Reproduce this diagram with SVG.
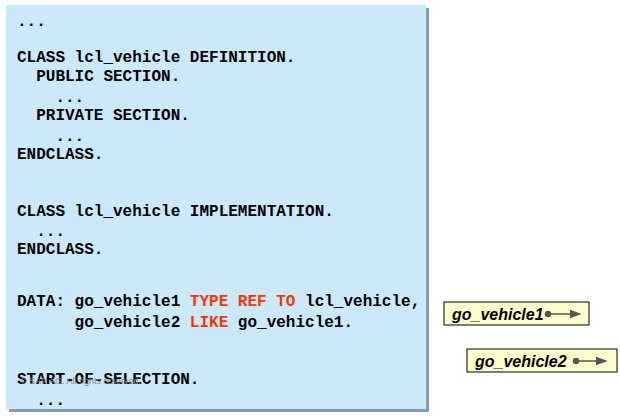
<svg xmlns="http://www.w3.org/2000/svg" width="620" height="417" viewBox="0 0 620 417">
<style>
.c{font-family:"Liberation Mono",monospace;font-weight:bold;font-size:16px;fill:#000;white-space:pre}
.k{fill:#ff3300}
.v{font-family:"Liberation Sans",Arial,sans-serif;font-weight:bold;font-style:italic;font-size:16px;fill:#000}
.b{fill:#ffffcc;stroke:#000;stroke-width:1}
</style>
<defs><marker id="a" markerWidth="8" markerHeight="6" refX="7" refY="3" orient="auto"><path d="M0,0L8,3L0,6z" fill="#555"/></marker></defs>
<g id="code">
<rect x="9" y="8" width="420" height="404" fill="#8a9aa8"/>
<rect x="6" y="5" width="420" height="404" fill="#cce9fb"/>
<text class="c" xml:space="preserve"><tspan x="17" y="26">...</tspan><tspan x="17" y="62">CLASS lcl_vehicle DEFINITION.</tspan><tspan x="17" y="81">  PUBLIC SECTION.</tspan><tspan x="17" y="102">    ...</tspan><tspan x="17" y="120">  PRIVATE SECTION.</tspan><tspan x="17" y="141">    ...</tspan><tspan x="17" y="159">ENDCLASS.</tspan><tspan x="17" y="216">CLASS lcl_vehicle IMPLEMENTATION.</tspan><tspan x="17" y="236">  ...</tspan><tspan x="17" y="254">ENDCLASS.</tspan><tspan x="17" y="306">DATA: go_vehicle1 <tspan class="k">TYPE REF TO</tspan> lcl_vehicle,</tspan><tspan x="17" y="327">      go_vehicle2 <tspan class="k">LIKE</tspan> go_vehicle1.</tspan><tspan x="17" y="384">START-OF-SELECTION.</tspan><tspan x="17" y="405">  ...</tspan></text>
<text x="20" y="384" font-family="Liberation Sans,Arial,sans-serif" font-size="9" fill="#888">© SAP AG. All rights reserved.</text>
</g>
<g id="go_vehicle1">
<rect class="b" x="444" y="302" width="145" height="23"/>
<text class="v" x="452" y="320">go_vehicle1</text>
</g>
<g id="go_vehicle2">
<rect class="b" x="467" y="349" width="150" height="23"/>
<text class="v" x="475" y="367">go_vehicle2</text>
</g>
<g id="connectors" stroke="#555" stroke-width="2" fill="#555">
<circle cx="548" cy="314" r="2.2"/><line x1="548" y1="314" x2="580" y2="314" marker-end="url(#a)" stroke-width="1.5"/>
<circle cx="576" cy="361" r="2.2"/><line x1="576" y1="361" x2="606" y2="361" marker-end="url(#a)" stroke-width="1.5"/>
</g>
</svg>
